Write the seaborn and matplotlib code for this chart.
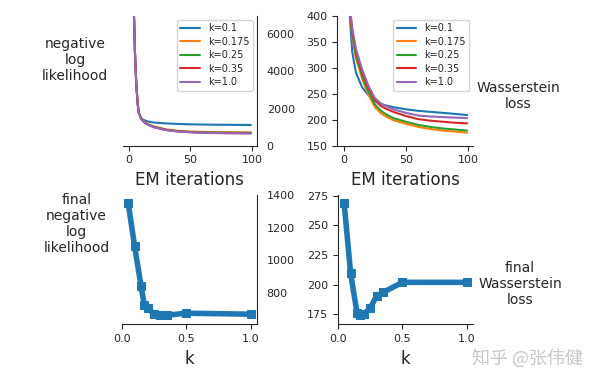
import seaborn as sns
import matplotlib.pyplot as plt
import pandas as pd
import numpy as np

# legend labels for the EM curves
k_labels = ['k=0.1', 'k=0.175', 'k=0.25', 'k=0.35', 'k=1.0']

# negative log likelihood vs EM iterations
nll_iters = [3, 4, 5, 6, 7, 8, 10, 12, 15, 20, 30, 40, 50, 60, 70, 80, 90, 99]
nll_k0100 = [11000, 7500, 5000, 3400, 2400, 1800, 1480, 1390, 1310, 1250, 1200, 1170, 1150, 1140, 1130, 1125, 1120, 1115]
nll_k0175 = [11000, 7500, 5000, 3400, 2400, 1800, 1460, 1320, 1180, 1040, 880, 800, 760, 740, 730, 725, 720, 715]
nll_k0250 = [11000, 7500, 5000, 3400, 2400, 1800, 1450, 1300, 1160, 1020, 860, 780, 740, 720, 705, 700, 695, 690]
nll_k0350 = [11000, 7500, 5000, 3400, 2400, 1800, 1440, 1290, 1150, 1010, 850, 770, 730, 705, 690, 680, 675, 670]
nll_k1000 = [11000, 7500, 5000, 3400, 2400, 1800, 1440, 1285, 1140, 1000, 840, 760, 720, 695, 680, 670, 665, 660]

# Wasserstein loss vs EM iterations
w_iters = [4, 5, 7, 10, 15, 20, 25, 30, 35, 40, 50, 60, 70, 80, 90, 99]
w_k0100 = [440, 400, 330, 290, 262, 247, 236, 230, 227, 224, 220, 217, 215, 213, 211, 209]
w_k0175 = [450, 410, 360, 318, 278, 248, 225, 212, 205, 199, 192, 186, 182, 179, 177, 175]
w_k0250 = [452, 412, 364, 323, 283, 253, 230, 217, 209, 203, 196, 190, 186, 183, 181, 179]
w_k0350 = [455, 415, 370, 330, 290, 260, 238, 226, 220, 215, 207, 201, 198, 196, 194, 193]
w_k1000 = [460, 420, 376, 336, 296, 265, 242, 231, 225, 220, 213, 208, 206, 205, 204, 203]

# final values vs k
k_vals = [0.05, 0.1, 0.15, 0.175, 0.2, 0.25, 0.3, 0.35, 0.5, 1.0]
final_nll = [1353, 1086, 843, 727, 707, 672, 666, 664, 676, 670]
final_w = [268.6, 209.5, 175.7, 174.2, 175.1, 179.9, 190.3, 193.4, 201.9, 201.9]

nll_series = [nll_k0100, nll_k0175, nll_k0250, nll_k0350, nll_k1000]
w_series = [w_k0100, w_k0175, w_k0250, w_k0350, w_k1000]

rows = []
for lab, vals in zip(k_labels, nll_series):
    for it, v in zip(nll_iters, vals):
        rows.append({'iter': it, 'value': v, 'k': lab})
df_nll = pd.DataFrame(rows)

rows = []
for lab, vals in zip(k_labels, w_series):
    for it, v in zip(w_iters, vals):
        rows.append({'iter': it, 'value': v, 'k': lab})
df_w = pd.DataFrame(rows)

df_final = pd.DataFrame({'k': k_vals, 'nll': final_nll, 'w': final_w})

sns.set_style('ticks')
plt.rcParams['font.family'] = ['DejaVu Sans', 'Noto Sans CJK SC']
plt.rcParams['xtick.labelsize'] = 8
plt.rcParams['ytick.labelsize'] = 8
pal = sns.color_palette('tab10', 5)

fig, axes = plt.subplots(2, 2, figsize=(6, 3.82), dpi=100)
ax_nll, ax_w = axes[0]
ax_fnll, ax_fw = axes[1]
ax_nll.set_position([0.2045, 0.6186, 0.2238, 0.3403])
ax_w.set_position([0.5622, 0.6186, 0.2267, 0.3403])
ax_fnll.set_position([0.2028, 0.151, 0.2255, 0.3385])
ax_fw.set_position([0.5628, 0.151, 0.226, 0.3385])

leg_kw = dict(loc='upper right', fontsize=7, frameon=True, labelspacing=0.35,
              handlelength=2.0, borderaxespad=0.4)

# top left
sns.lineplot(data=df_nll, x='iter', y='value', hue='k', palette=pal, ax=ax_nll, linewidth=1.5)
ax_nll.set_xlim(-4.95, 103.95)
ax_nll.set_ylim(0, 7000)
ax_nll.set_yticks([0, 2000, 4000, 6000])
ax_nll.set_xticks([0, 50, 100])
ax_nll.yaxis.tick_right()
sns.despine(ax=ax_nll, left=True, right=False)
ax_nll.legend(**leg_kw)
ax_nll.set_xlabel('EM iterations', fontsize=12)
ax_nll.set_ylabel('negative\nlog\nlikelihood', fontsize=10, rotation=0, ha='center', va='center')
ax_nll.yaxis.set_label_coords(-0.355, 0.66)

# top right
sns.lineplot(data=df_w, x='iter', y='value', hue='k', palette=pal, ax=ax_w, linewidth=1.5)
ax_w.set_xlim(-4.95, 103.95)
ax_w.set_ylim(150, 400)
ax_w.set_yticks([150, 200, 250, 300, 350, 400])
ax_w.set_xticks([0, 50, 100])
sns.despine(ax=ax_w)
ax_w.legend(**leg_kw)
ax_w.set_xlabel('EM iterations', fontsize=12)
ax_w.set_ylabel('Wasserstein\nloss', fontsize=10, rotation=0, ha='center', va='center')
ax_w.yaxis.set_label_coords(1.33, 0.38)

# bottom left
sns.lineplot(data=df_final, x='k', y='nll', ax=ax_fnll, color=pal[0], linewidth=4,
             marker='s', markersize=5.5, markeredgecolor=pal[0])
ax_fnll.set_ylim(608, 1400)
ax_fnll.set_yticks([800, 1000, 1200, 1400])
ax_fnll.set_xticks([0.0, 0.5, 1.0])
ax_fnll.yaxis.tick_right()
sns.despine(ax=ax_fnll, left=True, right=False)
ax_fnll.set_xlabel('k', fontsize=12)
ax_fnll.set_ylabel('final\nnegative\nlog\nlikelihood', fontsize=10, rotation=0, ha='center', va='center')
ax_fnll.yaxis.set_label_coords(-0.333, 0.776)

# bottom right
sns.lineplot(data=df_final, x='k', y='w', ax=ax_fw, color=pal[0], linewidth=4,
             marker='s', markersize=5.5, markeredgecolor=pal[0])
ax_fw.set_ylim(166.5, 275.5)
ax_fw.set_yticks([175, 200, 225, 250, 275])
ax_fw.set_xticks([0.0, 0.5, 1.0])
sns.despine(ax=ax_fw)
ax_fw.set_xlabel('k', fontsize=12)
ax_fw.set_ylabel('final\nWasserstein\nloss', fontsize=10, rotation=0, ha='center', va='center')
ax_fw.yaxis.set_label_coords(1.344, 0.312)

# watermark
fig.text(0.879, 0.062, '知乎 @张伟健', fontsize=13, color='#c8c8c8', ha='center', va='center',
         family=['Noto Sans CJK SC', 'DejaVu Sans'])

fig.savefig('out.png', dpi=100)
